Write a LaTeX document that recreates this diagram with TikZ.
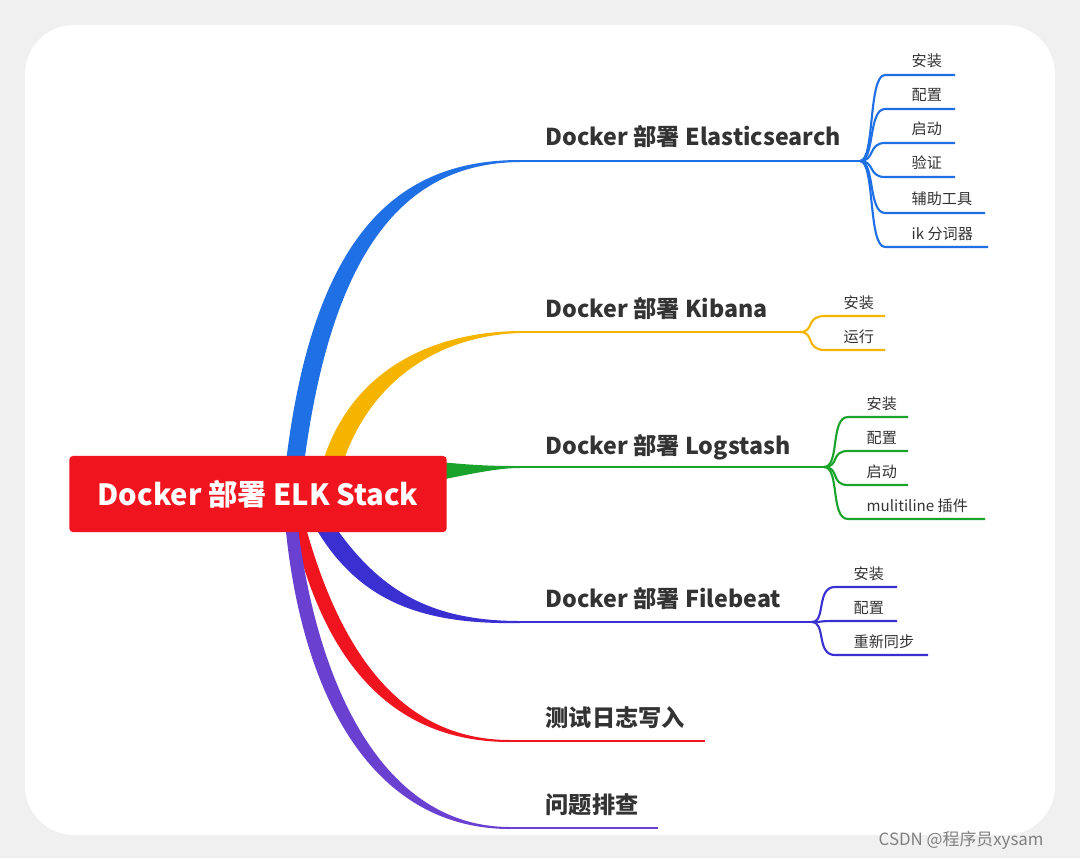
\documentclass[tikz,border=0pt]{standalone}
\usepackage{fontspec}
\setmainfont{Noto Sans CJK SC}
\definecolor{cB}{HTML}{1F6FE5}
\definecolor{cO}{HTML}{F5B400}
\definecolor{cG}{HTML}{1AA32A}
\definecolor{cF}{HTML}{3A2FD0}
\definecolor{cR}{HTML}{F0141E}
\definecolor{cP}{HTML}{6A40D0}
\definecolor{txt}{HTML}{333333}
\begin{document}
\begin{tikzpicture}[x=0.01cm,y=-0.01cm,
  title/.style={anchor=base west,inner sep=0,text=txt,font=\fontsize{6.6}{7}\selectfont\bfseries},
  leaf/.style={anchor=base west,inner sep=0,text=txt,font=\fontsize{4.3}{5}\selectfont},
  lw/.style={line width=0.6pt}]
\useasboundingbox (0,0) rectangle (1080,858);
\fill[gray!12] (0,0) rectangle (1080,858);
\fill[white,rounded corners=14] (25,25) rectangle (1055,835);
% branches (tapered)
\fill[cB] (284,480) .. controls (310,230) and (400,160) .. (520,160) -- (520,162) .. controls (410,163) and (330,240) .. (302,480) -- cycle;
\draw[cB,lw] (520,161) -- (862,161);
\fill[cO] (318,480) .. controls (340,380) and (420,332) .. (520,331) -- (520,333) .. controls (430,336) and (360,390) .. (338,480) -- cycle;
\draw[cO,lw] (520,332) -- (800,332);
\fill[cG] (440,462) .. controls (480,466) and (500,466) .. (520,466) -- (520,468) .. controls (500,468) and (480,472) .. (440,480) -- cycle;
\draw[cG,lw] (520,467) -- (826,467);
\fill[cF] (336,528) .. controls (380,590) and (430,621) .. (520,621) -- (520,623) .. controls (420,625) and (360,600) .. (318,532) -- cycle;
\draw[cF,lw] (520,622) -- (814,622);
\fill[cR] (306,528) .. controls (340,650) and (400,740) .. (510,740) -- (510,742) .. controls (390,742) and (325,660) .. (294,532) -- cycle;
\draw[cR,lw] (510,741) -- (705,741);
\fill[cP] (298,528) .. controls (320,700) and (390,827) .. (510,827) -- (510,829) .. controls (380,829) and (305,710) .. (286,532) -- cycle;
\draw[cP,lw] (510,828) -- (658,828);
% root
\node[fill=cR,minimum width=3.77cm,minimum height=0.76cm,inner sep=0,rounded corners=1pt,text=white,font=\fontsize{8.3}{9}\selectfont\bfseries] (root) at (258,494) {Docker 部署 ELK Stack};
% titles
\node[title] (es) at (545,146) {Docker 部署 Elasticsearch};
\node[title] (kb) at (545,317) {Docker 部署 Kibana};
\node[title] (ls) at (545,454) {Docker 部署 Logstash};
\node[title] (fb) at (545,607) {Docker 部署 Filebeat};
\node[title] (t1) at (545,726) {测试日志写入};
\node[title] (t2) at (545,813) {问题排查};
% children
\foreach \y/\t/\e in {75/安装/955,109/配置/955,143/启动/955,177/验证/955,213/辅助工具/985,247/ik 分词器/988}{
  \draw[cB,lw] (860,161) .. controls (875,161) and (868,\y) .. (885,\y) -- (\e,\y);
  \node[leaf] at (911,\y-8) {\t};}
\foreach \y/\t/\e in {316/安装/885,350/运行/885}{
  \draw[cO,lw] (800,332) .. controls (815,332) and (805,\y) .. (825,\y) -- (\e,\y);
  \node[leaf] at (843,\y-8) {\t};}
\foreach \y/\t/\e in {417/安装/908,451/配置/908,485/启动/908,519/mulitiline 插件/985}{
  \draw[cG,lw] (824,467) .. controls (840,467) and (830,\y) .. (848,\y) -- (\e,\y);
  \node[leaf] at (866,\y-8) {\t};}
\foreach \y/\t/\e in {587/安装/897,621/配置/897,655/重新同步/928}{
  \draw[cF,lw] (812,622) .. controls (826,622) and (816,\y) .. (835,\y) -- (\e,\y);
  \node[leaf] at (853,\y-8) {\t};}
\node[anchor=base west,inner sep=0,text=gray,font=\fontsize{4.8}{5}\selectfont] (wm) at (878,845) {CSDN @程序员xysam};
\end{tikzpicture}
\end{document}
